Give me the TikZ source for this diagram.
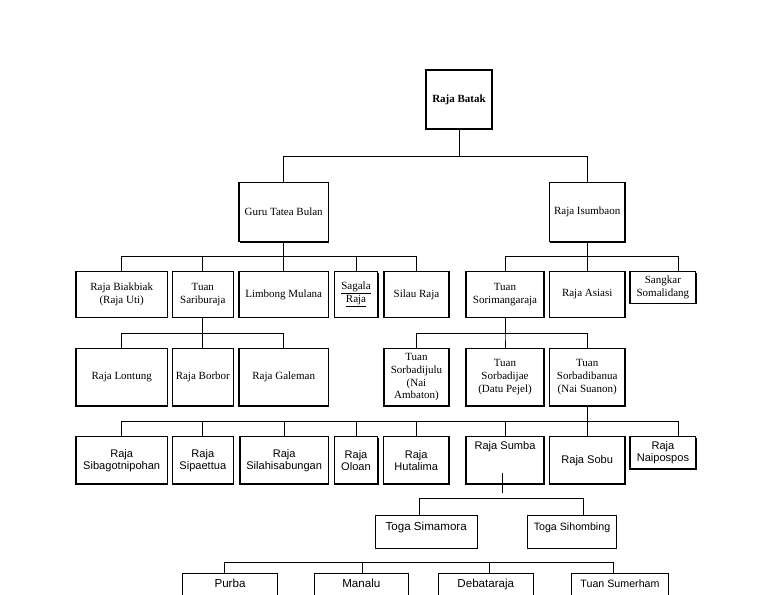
\documentclass[tikz,border=0pt]{standalone}
\usepackage{fontspec}
\setmainfont{Liberation Serif}
\newfontfamily\sansface{Liberation Sans}
\usepackage{tikz}
\usetikzlibrary{positioning}
\usetikzlibrary{shadows}

\tikzset{
  boxsize/.style 2 args={minimum width=#1*0.75pt, minimum height=#2*0.75pt},
  box/.style={draw, fill=white, line width=1.1pt, inner xsep=1pt, inner ysep=2pt, align=center,
    drop shadow={shadow xshift=0.8pt, shadow yshift=-0.8pt, fill=black, opacity=1}},
  serifbox/.style={box, font=\fontsize{8.25}{9.6}\selectfont},
  sansbox/.style={box, font=\sansface\fontsize{8.3}{9.3}\selectfont},
  plainbox/.style={draw, line width=0.7pt, inner xsep=1pt, inner ysep=2pt, font=\sansface\fontsize{8.7}{10}\selectfont},
  smalltext/.style={font=\sansface\fontsize{8}{9.5}\selectfont},
  topalign/.style={text height=6pt, text depth=#1},
  link/.style={line width=0.7pt}
}

\begin{document}
\begin{tikzpicture}[x=0.75pt, y=-0.75pt]
    \useasboundingbox (0,0) rectangle (768,594);
    \clip (0,0) rectangle (768,594);

    % bus lines
    \coordinate (bus0) at (0,156.7);
    \coordinate (bus1) at (0,256.7);
    \coordinate (bus2) at (0,333.3);
    \coordinate (bus3) at (0,421);

    % top
    \node[serifbox, boxsize={66}{59}, font=\bfseries\fontsize{8.25}{9.6}\selectfont] (batak) at (459,99.5) {Raja Batak};
    \node[serifbox, boxsize={89.3}{59.4}] (gtb) at (283.7,212) {Guru Tatea Bulan};
    \node[serifbox, boxsize={75.7}{59.4}] (isu) at (587.2,212) {Raja Isumbaon};

    % row 2
    \node[serifbox, boxsize={91.3}{45.6}] (biak) at (121.7,294.5) {Raja Biakbiak\\(Raja Uti)};
    \node[serifbox, boxsize={61}{45.6}] (sari) at (202.8,294.5) {Tuan\\Sariburaja};
    \node[serifbox, boxsize={89.3}{45.6}] (limb) at (283.7,294.5) {Limbong Mulana};
    \node[serifbox, boxsize={43.4}{45.6}] (saga) at (356,294.5) {\underline{Sagala}\\\underline{Raja}};
    \node[serifbox, boxsize={65}{45.6}] (silau) at (416.5,294.5) {Silau Raja};
    \node[serifbox, boxsize={78}{45.6}] (sori) at (505,294.5) {Tuan\\Sorimangaraja};
    \node[serifbox, boxsize={75.7}{45.6}] (asia) at (587.2,294.5) {Raja Asiasi};
    \node[serifbox, boxsize={65.7}{31.6}] (sang) at (662.9,287.5) {Sangkar\\Somalidang};
    \coordinate (sangtop) at ([xshift=11.5pt]sang.north);

    % row 3
    \node[serifbox, boxsize={91.3}{57.7}] (lont) at (121.7,377.2) {Raja Lontung};
    \node[serifbox, boxsize={61}{57.7}] (borb) at (202.8,377.2) {Raja Borbor};
    \node[serifbox, boxsize={89.3}{57.7}] (gale) at (283.7,377.2) {Raja Galeman};
    \node[serifbox, boxsize={65}{57.7}] (sjul) at (416.5,377.2) {Tuan\\Sorbadijulu\\(Nai\\Ambaton)};
    \node[serifbox, boxsize={78}{57.7}] (sjae) at (505,377.2) {Tuan\\Sorbadijae\\(Datu Pejel)};
    \node[serifbox, boxsize={75.7}{57.7}] (sban) at (587.2,377.2) {Tuan\\Sorbadibanua\\(Nai Suanon)};

    % row 4
    \node[sansbox, boxsize={91.3}{47.3}] (siba) at (121.7,460.4) {Raja\\Sibagotnipohan};
    \node[sansbox, boxsize={61}{47.3}] (sipa) at (202.8,460.4) {Raja\\Sipaettua};
    \node[sansbox, boxsize={88.3}{47.3}] (sila) at (284.2,460.4) {Raja\\Silahisabungan};
    \node[sansbox, boxsize={43.4}{47.3}] (oloa) at (356,460.4) {Raja\\Oloan};
    \node[sansbox, boxsize={65.7}{47.3}] (huta) at (416.2,460.4) {Raja\\Hutalima};
    \node[sansbox, boxsize={78}{47.3}, topalign=21.8pt] (sumb) at (505,460.4) {Raja Sumba};
    \node[sansbox, boxsize={75.7}{47.3}] (sobu) at (587.2,460.4) {Raja Sobu};
    \node[sansbox, boxsize={65.7}{32.3}] (naip) at (662.9,452.9) {Raja\\Naipospos};
    \coordinate (naiptop) at ([xshift=11.5pt]naip.north);

    % row 5
    \node[plainbox, boxsize={102.3}{32.6}, topalign=8.2pt] (tsim) at (426.2,532) {Toga Simamora};
    \node[plainbox, boxsize={89.4}{32.6}, topalign=8.2pt, smalltext] (tsih) at (572,532) {Toga Sihombing};
    \coordinate (simtop) at ([xshift=-5.2pt]tsim.north);
    \coordinate (sihtop) at ([xshift=8.5pt]tsih.north);

    % row 6
    \node[plainbox, boxsize={94.6}{40}, topalign=15.2pt] (purb) at (230,593.3) {Purba};
    \node[plainbox, boxsize={94}{40}, topalign=15.2pt] (mana) at (361.3,593.3) {Manalu};
    \node[plainbox, boxsize={95}{40}, topalign=15.2pt] (deba) at (485.8,593.3) {Debataraja};
    \node[plainbox, boxsize={96.6}{40}, topalign=15.2pt, smalltext] (tsum) at (620,593.3) {Tuan Sumerham};

    % connectors
    \foreach \c in {gtb.north,isu.north}
      \draw[link] (batak.south) |- (\c |- bus0) -- (\c);
    \foreach \c in {biak.north,sari.north,limb.north,saga.north,silau.north}
      \draw[link] (gtb.south) |- (\c |- bus1) -- (\c);
    \foreach \c in {sori.north,asia.north,sangtop}
      \draw[link] (isu.south) |- (\c |- bus1) -- (\c);
    \foreach \c in {lont.north,borb.north,gale.north}
      \draw[link] (sari.south) |- (\c |- bus2) -- (\c);
    \foreach \c in {sjul.north,sjae.north,sban.north}
      \draw[link] (sori.south) |- (\c |- bus2) -- (\c);
    \foreach \c in {siba.north,sipa.north,sila.north,oloa.north,huta.north,sumb.north,sobu.north,naiptop}
      \draw[link] (sban.south) |- (\c |- bus3) -- (\c);

    % Raja Sumba
    \draw[link] ([xshift=-1.7pt,yshift=9.2pt]sumb.south) -- ([xshift=-1.7pt,yshift=-5.8pt]sumb.south);
    \draw[link] (simtop) -- ++(0,-16.4) -| (sihtop);

    % bottom row
    \draw[link] ([xshift=-4.3pt]purb.north) -- ++(0,-10) -| ([xshift=-5pt]tsum.north);
    \draw[link] ([xshift=1pt]mana.north) -- ++(0,-10);
    \draw[link] ([xshift=2.6pt]deba.north) -- ++(0,-10);
\end{tikzpicture}
\end{document}
